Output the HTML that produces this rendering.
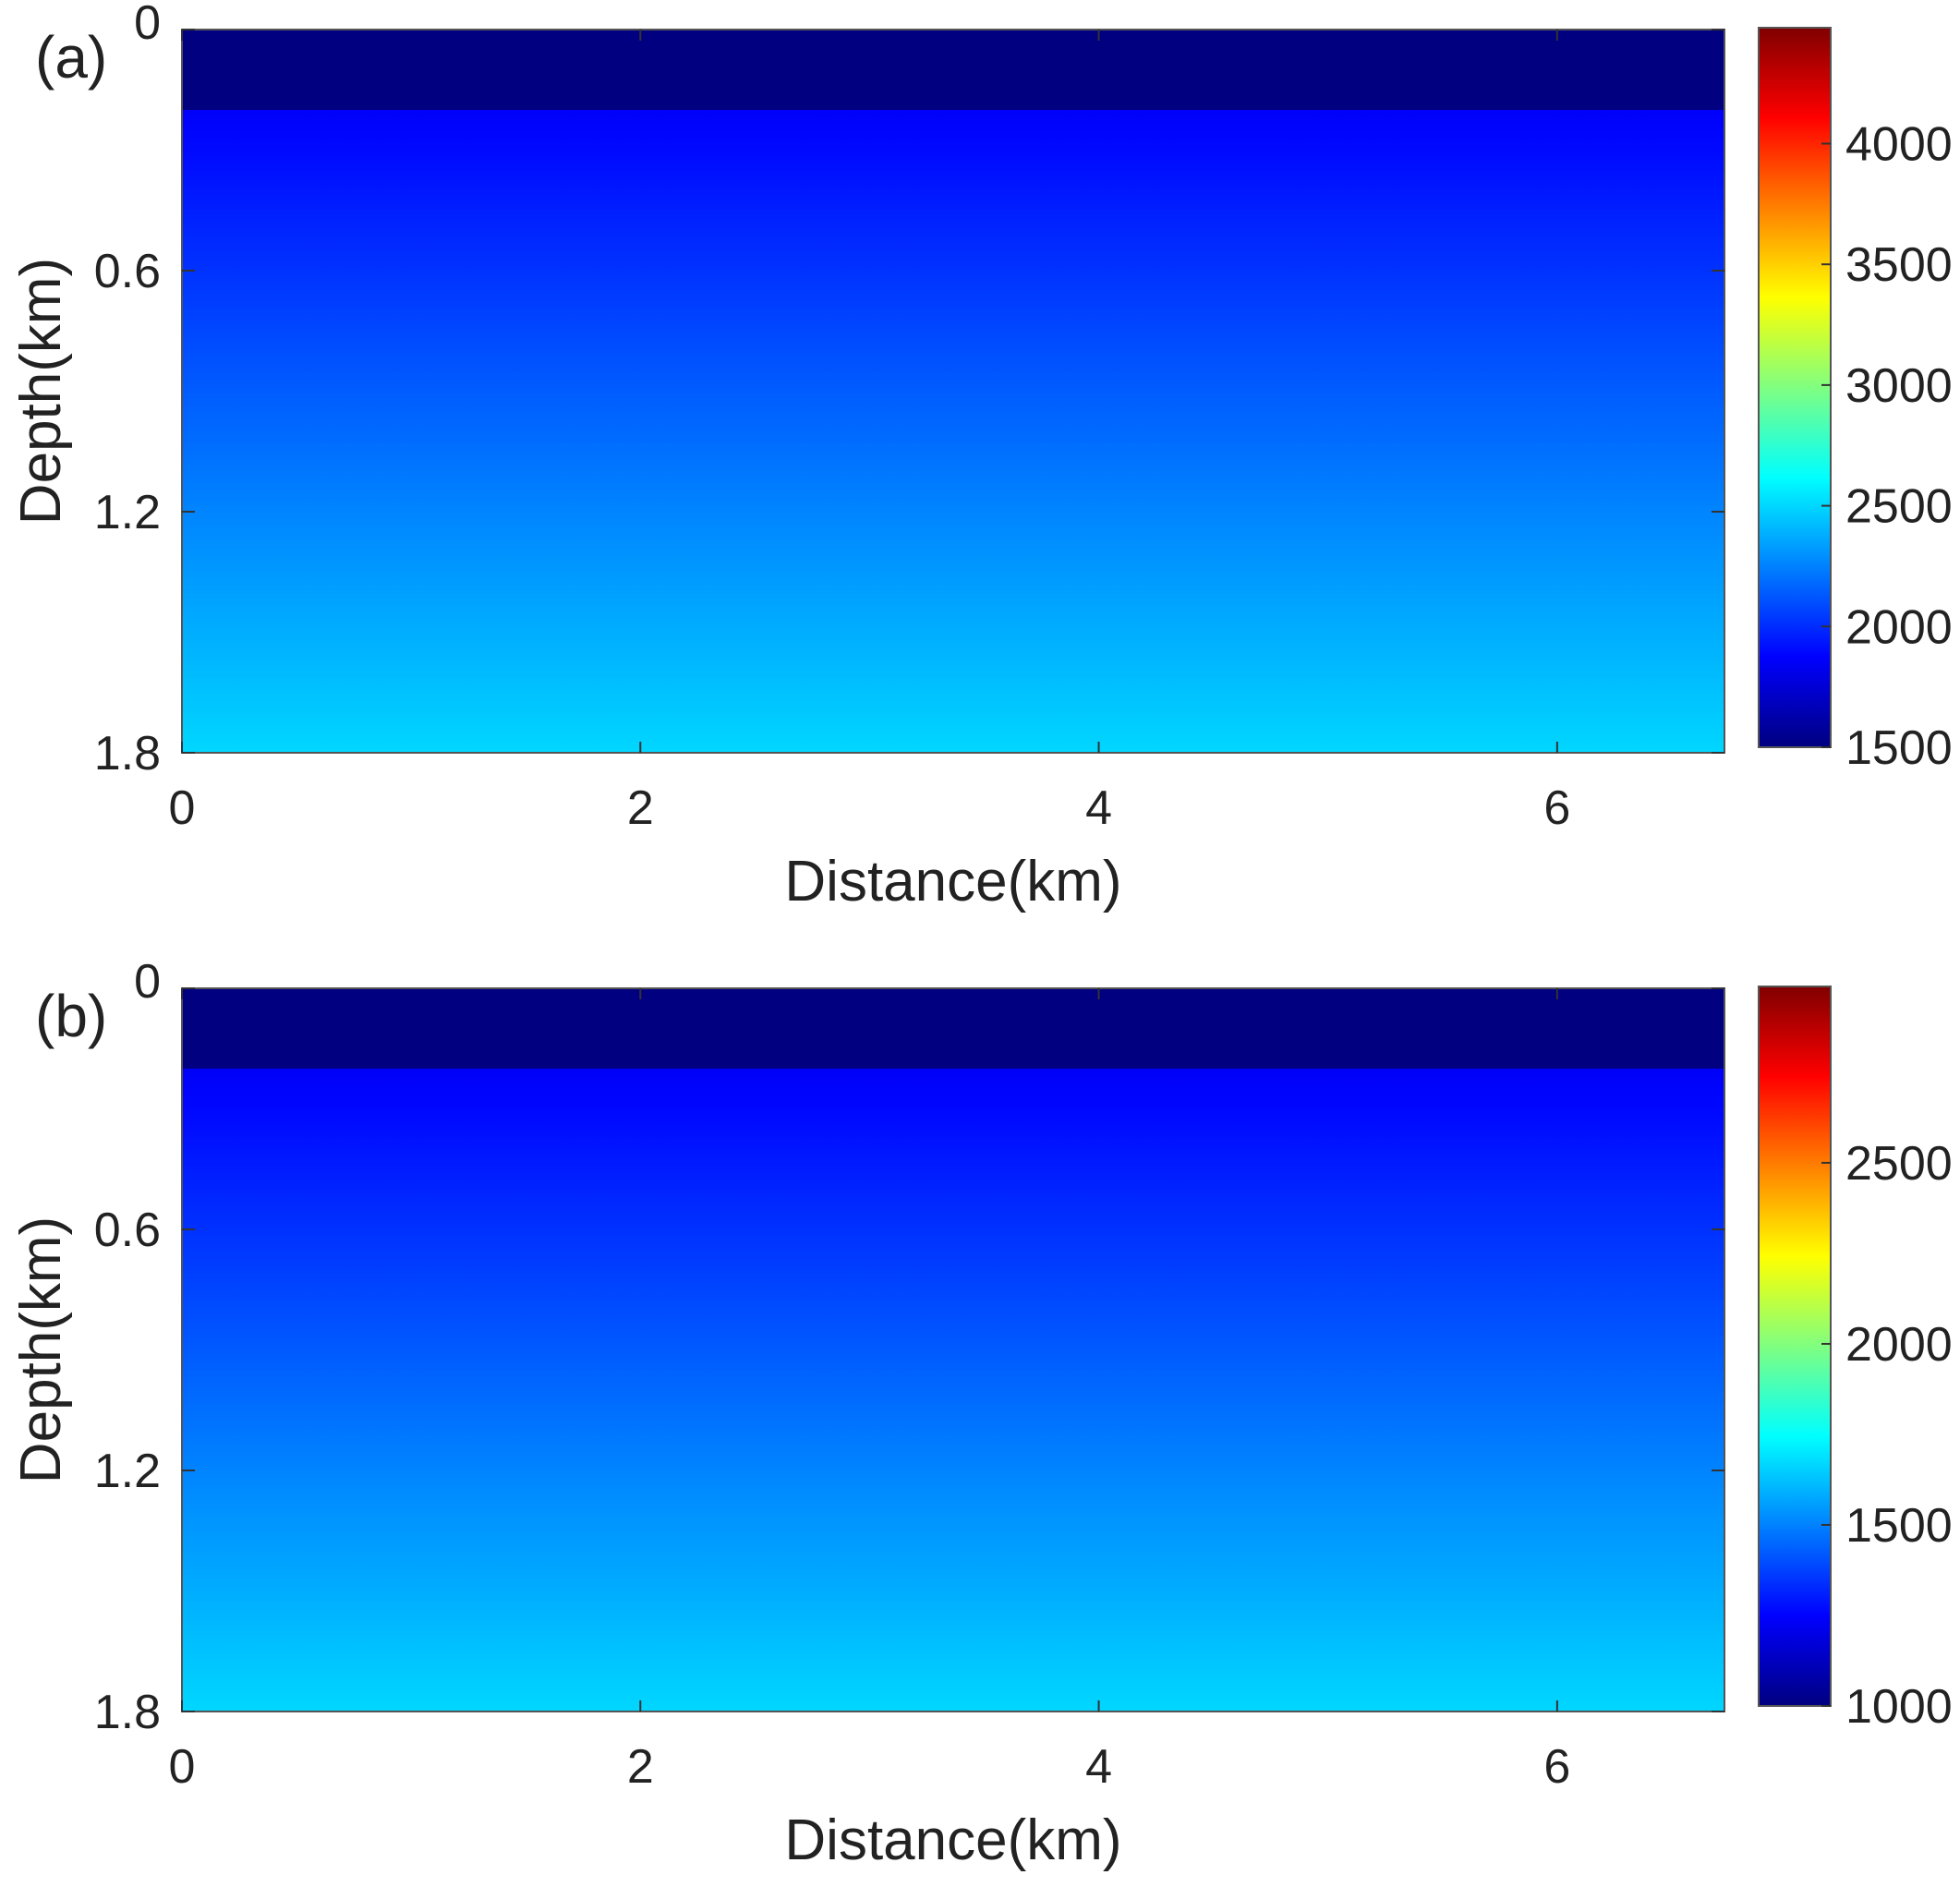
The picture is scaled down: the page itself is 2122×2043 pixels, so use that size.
<!DOCTYPE html>
<html><head><meta charset="utf-8"><style>
html,body{margin:0;padding:0;background:#fff;}
svg{display:block;font-family:"Liberation Sans",Arial,sans-serif;}
</style></head><body>
<svg id="fig" width="2122" height="2043" viewBox="0 0 2122 2043" xmlns="http://www.w3.org/2000/svg"></svg>
<script>
// Panel data
const depthEdges = [0,0.1,0.2,0.3,0.4,0.5,0.6,0.7,0.8,0.9,1.0,1.1,1.2,1.3,1.4,1.5,1.6,1.7,1.8];
const velA = [1500,1500,1860,1900,1940,1980,2020,2060,2100,2140,2180,2220,2260,2300,2340,2380,2420,2460];
const velB = [1000,1000,1235,1262,1289,1316,1343,1370,1397,1424,1451,1478,1505,1532,1559,1586,1613,1640];
const xTicks = [0,2,4,6];
const yTicks = [0,0.6,1.2,1.8];
const yTickLabels = ["0","0.6","1.2","1.8"];
const cbTicksA = [1500,2000,2500,3000,3500,4000];
const cbTicksB = [1000,1500,2000,2500];
const xMax = 6.73;

const svg = document.getElementById('fig');
const NS = 'http://www.w3.org/2000/svg';
function mk(tag, attrs){const e=document.createElementNS(NS,tag);for(const k in attrs)e.setAttribute(k,attrs[k]);return e;}
function jet(t){
  t=Math.max(0,Math.min(1,t));
  const f=x=>Math.round(255*Math.max(0,Math.min(1,x)));
  const r=Math.min(4*t-1.5,-4*t+4.5), g=Math.min(4*t-0.5,-4*t+3.5), b=Math.min(4*t+0.5,-4*t+2.5);
  return `rgb(${f(r)},${f(g)},${f(b)})`;
}
const defs=mk('defs',{}); svg.appendChild(defs);
let gid=0;
function panel(off, vel, vmin, vmax, cbTicks, label, id){
  const L=197,R=1867,T=32+off,B=815+off;
  const xs=v=>L+(v/xMax)*(R-L);
  const ys=d=>T+(d/1.8)*(B-T);
  const g=mk('g',{});
  
  
  svg.appendChild(g);
  for(let i=0;i<vel.length;i++){
    const y0=ys(depthEdges[i]), y1=ys(depthEdges[i+1]);
    const c0=jet((vel[i]-vmin)/(vmax-vmin));
    let fill=c0;
    let v1=null;
    if(i+1<vel.length && Math.abs(vel[i+1]-vel[i])<100 && vel[i+1]!==vel[i]) v1=vel[i+1];
    else if(i>0 && i+1===vel.length && Math.abs(vel[i]-vel[i-1])<100) v1=2*vel[i]-vel[i-1];
    if(v1!==null){
      const lg=mk('linearGradient',{id:'rg'+(gid),x1:0,y1:0,x2:0,y2:1});
      lg.appendChild(mk('stop',{offset:0,'stop-color':c0}));
      lg.appendChild(mk('stop',{offset:1,'stop-color':jet((v1-vmin)/(vmax-vmin))}));
      defs.appendChild(lg);
      fill=`url(#rg${gid})`; gid++;
    }
    const r=mk('rect',{x:L,y:y0,width:R-L,height:y1-y0+0.6,fill:fill});
    
    
    g.appendChild(r);
  }
  const fr=mk('rect',{x:L,y:T,width:R-L,height:B-T,fill:'none',stroke:'#555','stroke-width':2});
  
  
  g.appendChild(fr);
  xTicks.forEach(v=>{
    const x=xs(v);
    g.appendChild(mk('line',{x1:x,y1:B,x2:x,y2:B-12,stroke:'#333','stroke-width':2}));
    g.appendChild(mk('line',{x1:x,y1:T,x2:x,y2:T+12,stroke:'#333','stroke-width':2}));
    const t=mk('text',{x:x,y:B+77,'font-size':52,'text-anchor':'middle',fill:'#222'});
    
    
    t.textContent=v; g.appendChild(t);
  });
  yTicks.forEach((v,i)=>{
    const y=ys(v);
    g.appendChild(mk('line',{x1:L,y1:y,x2:L+14,y2:y,stroke:'#333','stroke-width':2}));
    g.appendChild(mk('line',{x1:R,y1:y,x2:R-14,y2:y,stroke:'#333','stroke-width':2}));
    const t=mk('text',{x:174,y:y+(i===0?10:18),'font-size':52,'text-anchor':'end',fill:'#222'});
    
    
    t.textContent=yTickLabels[i]; g.appendChild(t);
  });
  const xl=mk('text',{x:(L+R)/2,y:B+160,'font-size':62,'text-anchor':'middle',fill:'#222'});
  
  
  xl.textContent='Distance(km)'; g.appendChild(xl);
  const yl=mk('text',{x:0,y:0,'font-size':62,'text-anchor':'middle',fill:'#222',transform:`translate(65,${(T+B)/2}) rotate(-90)`});
  
  
  yl.textContent='Depth(km)'; g.appendChild(yl);
  const pl=mk('text',{x:38,y:T+52,'font-size':64,fill:'#222'});
  
  
  pl.textContent=label; g.appendChild(pl);
  // colorbar
  const CL=1904,CR=1982,CT=T-2,CB=809+off;
  const lg=mk('linearGradient',{id:'grad'+id,x1:0,y1:1,x2:0,y2:0});
  for(let k=0;k<=8;k++){lg.appendChild(mk('stop',{offset:k/8,'stop-color':jet(k/8)}));}
  defs.appendChild(lg);
  const cb=mk('rect',{x:CL,y:CT,width:CR-CL,height:CB-CT,fill:`url(#grad${id})`,stroke:'#555','stroke-width':2});
  
  
  g.appendChild(cb);
  const cy=v=>CB-(v-vmin)/(vmax-vmin)*(CB-CT);
  cbTicks.forEach(v=>{
    const y=cy(v);
    g.appendChild(mk('line',{x1:CR,y1:y,x2:CR-10,y2:y,stroke:'#333','stroke-width':2}));
    const t=mk('text',{x:1998,y:y+18,'font-size':52,fill:'#222'});
    
    
    t.textContent=v; g.appendChild(t);
  });
}
panel(0, velA, 1500, 4480, cbTicksA, '(a)', 'a');
panel(1038, velB, 1000, 2987, cbTicksB, '(b)', 'b');
</script>
</body></html>
